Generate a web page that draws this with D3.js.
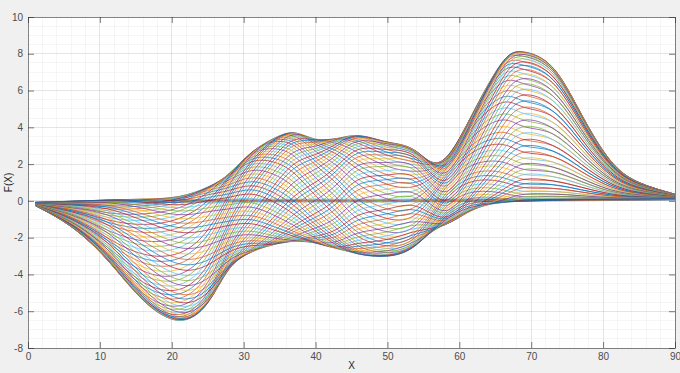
<!DOCTYPE html>
<html>
<head>
<meta charset="utf-8">
<script src="https://cdn.jsdelivr.net/npm/d3@7"></script>
<style>
  html, body { margin: 0; padding: 0; background: #f0f0f0; }
  svg { display: block; font-family: "Liberation Sans", Arial, sans-serif; }
</style>
</head>
<body>
<svg id="chart" width="680" height="373"></svg>
<script>
const xKnots = [1, 6, 11, 16, 21, 25, 28, 31, 34, 37, 40, 43, 46, 50, 54, 58, 62, 66, 69, 73, 77, 81, 85, 90];

// F(X) read at each x position above, one value per curve (first set of 36 curves)
const curvesAtX = [
  [-0.08,-0.08,-0.09,-0.09,-0.10,-0.11,-0.12,-0.14,-0.15,-0.17,-0.18,-0.19,-0.21,-0.22,-0.23,-0.24,-0.24,-0.25,-0.25,-0.25,-0.24,-0.24,-0.23,-0.22,-0.21,-0.19,-0.18,-0.17,-0.15,-0.14,-0.12,-0.11,-0.10,-0.09,-0.09,-0.08],
  [-0.02,-0.03,-0.06,-0.11,-0.18,-0.27,-0.37,-0.47,-0.59,-0.71,-0.83,-0.95,-1.06,-1.15,-1.24,-1.31,-1.36,-1.39,-1.40,-1.39,-1.36,-1.31,-1.24,-1.15,-1.06,-0.95,-0.83,-0.71,-0.59,-0.47,-0.37,-0.27,-0.18,-0.11,-0.06,-0.03],
  [0.05,0.03,-0.05,-0.17,-0.33,-0.53,-0.76,-1.02,-1.29,-1.58,-1.86,-2.13,-2.39,-2.62,-2.82,-2.98,-3.10,-3.18,-3.20,-3.18,-3.10,-2.98,-2.82,-2.62,-2.39,-2.13,-1.86,-1.58,-1.29,-1.02,-0.76,-0.53,-0.33,-0.17,-0.05,0.03],
  [0.06,0.10,0.06,-0.07,-0.27,-0.54,-0.88,-1.28,-1.71,-2.17,-2.65,-3.13,-3.59,-4.03,-4.42,-4.76,-5.03,-5.24,-5.36,-5.40,-5.36,-5.24,-5.03,-4.76,-4.42,-4.03,-3.59,-3.13,-2.65,-2.17,-1.71,-1.28,-0.88,-0.54,-0.27,-0.07],
  [0.04,0.19,0.24,0.19,0.04,-0.21,-0.55,-0.96,-1.45,-1.98,-2.54,-3.13,-3.72,-4.28,-4.82,-5.30,-5.71,-6.05,-6.30,-6.45,-6.50,-6.45,-6.30,-6.05,-5.71,-5.30,-4.82,-4.28,-3.72,-3.13,-2.54,-1.98,-1.45,-0.96,-0.55,-0.21],
  [0.33,0.56,0.70,0.75,0.70,0.56,0.33,0.01,-0.38,-0.83,-1.32,-1.85,-2.40,-2.95,-3.48,-3.98,-4.43,-4.81,-5.13,-5.36,-5.50,-5.55,-5.50,-5.36,-5.13,-4.81,-4.43,-3.98,-3.48,-2.95,-2.40,-1.85,-1.32,-0.83,-0.38,0.01],
  [0.57,0.89,1.15,1.34,1.46,1.50,1.46,1.34,1.15,0.89,0.57,0.20,-0.21,-0.65,-1.10,-1.55,-1.99,-2.40,-2.77,-3.09,-3.35,-3.54,-3.66,-3.70,-3.66,-3.54,-3.35,-3.09,-2.77,-2.40,-1.99,-1.55,-1.10,-0.65,-0.21,0.20],
  [0.82,1.25,1.64,1.97,2.24,2.44,2.56,2.60,2.56,2.44,2.24,1.97,1.64,1.25,0.82,0.37,-0.10,-0.57,-1.02,-1.45,-1.84,-2.17,-2.44,-2.64,-2.76,-2.80,-2.76,-2.64,-2.44,-2.17,-1.84,-1.45,-1.02,-0.57,-0.10,0.37],
  [0.48,0.98,1.47,1.92,2.33,2.69,2.97,3.19,3.32,3.36,3.32,3.19,2.97,2.69,2.33,1.92,1.47,0.98,0.48,-0.02,-0.51,-0.96,-1.37,-1.73,-2.01,-2.23,-2.36,-2.40,-2.36,-2.23,-2.01,-1.73,-1.37,-0.96,-0.51,-0.02],
  [-0.26,0.24,0.75,1.26,1.76,2.23,2.65,3.01,3.31,3.52,3.66,3.70,3.66,3.52,3.31,3.01,2.65,2.23,1.76,1.26,0.75,0.24,-0.26,-0.73,-1.15,-1.51,-1.81,-2.02,-2.16,-2.20,-2.16,-2.02,-1.81,-1.51,-1.15,-0.73],
  [-1.29,-0.89,-0.44,0.04,0.53,1.02,1.50,1.95,2.35,2.70,2.98,3.19,3.32,3.36,3.32,3.19,2.98,2.70,2.35,1.95,1.50,1.02,0.53,0.04,-0.44,-0.89,-1.29,-1.64,-1.92,-2.13,-2.26,-2.30,-2.26,-2.13,-1.92,-1.64],
  [-2.20,-1.90,-1.53,-1.10,-0.63,-0.12,0.40,0.92,1.43,1.90,2.33,2.70,3.00,3.22,3.36,3.40,3.36,3.22,3.00,2.70,2.33,1.90,1.43,0.92,0.40,-0.12,-0.63,-1.10,-1.53,-1.90,-2.20,-2.42,-2.56,-2.60,-2.56,-2.42],
  [-2.84,-2.70,-2.46,-2.14,-1.74,-1.28,-0.77,-0.23,0.33,0.89,1.43,1.94,2.40,2.80,3.12,3.36,3.50,3.55,3.50,3.36,3.12,2.80,2.40,1.94,1.43,0.89,0.33,-0.23,-0.77,-1.28,-1.74,-2.14,-2.46,-2.70,-2.84,-2.89],
  [-3.00,-2.95,-2.81,-2.59,-2.28,-1.89,-1.45,-0.96,-0.44,0.10,0.64,1.16,1.65,2.09,2.48,2.79,3.01,3.15,3.20,3.15,3.01,2.79,2.48,2.09,1.65,1.16,0.64,0.10,-0.44,-0.96,-1.45,-1.89,-2.28,-2.59,-2.81,-2.95],
  [-2.40,-2.36,-2.25,-2.06,-1.80,-1.49,-1.13,-0.72,-0.29,0.15,0.59,1.02,1.43,1.79,2.10,2.36,2.55,2.66,2.70,2.66,2.55,2.36,2.10,1.79,1.43,1.02,0.59,0.15,-0.29,-0.72,-1.13,-1.49,-1.80,-2.06,-2.25,-2.36],
  [-0.88,-0.66,-0.40,-0.12,0.19,0.50,0.81,1.12,1.40,1.66,1.88,2.06,2.19,2.27,2.30,2.27,2.19,2.06,1.88,1.66,1.40,1.12,0.81,0.50,0.19,-0.12,-0.40,-0.66,-0.88,-1.06,-1.19,-1.27,-1.30,-1.27,-1.19,-1.06],
  [-0.11,0.16,0.48,0.87,1.29,1.74,2.20,2.67,3.11,3.54,3.92,4.25,4.51,4.71,4.83,4.87,4.83,4.71,4.51,4.25,3.92,3.54,3.11,2.67,2.20,1.74,1.29,0.87,0.48,0.16,-0.11,-0.31,-0.43,-0.47,-0.43,-0.31],
  [-0.03,0.14,0.42,0.80,1.27,1.82,2.42,3.07,3.73,4.40,5.04,5.64,6.19,6.66,7.04,7.32,7.49,7.55,7.49,7.32,7.04,6.66,6.19,5.64,5.04,4.40,3.73,3.07,2.42,1.82,1.27,0.80,0.42,0.14,-0.03,-0.09],
  [-0.02,0.04,0.22,0.52,0.93,1.43,2.01,2.65,3.33,4.04,4.75,5.43,6.07,6.65,7.15,7.56,7.86,8.04,8.10,8.04,7.86,7.56,7.15,6.65,6.07,5.43,4.75,4.04,3.33,2.65,2.01,1.43,0.93,0.52,0.22,0.04],
  [0.03,0.08,0.25,0.51,0.88,1.32,1.84,2.41,3.01,3.64,4.27,4.88,5.45,5.96,6.41,6.77,7.03,7.20,7.25,7.20,7.03,6.77,6.41,5.96,5.45,4.88,4.27,3.64,3.01,2.41,1.84,1.32,0.88,0.51,0.25,0.08],
  [0.06,0.09,0.20,0.37,0.60,0.89,1.22,1.59,1.98,2.38,2.78,3.17,3.54,3.87,4.16,4.39,4.56,4.67,4.70,4.67,4.56,4.39,4.16,3.87,3.54,3.17,2.78,2.38,1.98,1.59,1.22,0.89,0.60,0.37,0.20,0.09],
  [0.08,0.10,0.14,0.22,0.33,0.46,0.61,0.78,0.96,1.14,1.32,1.50,1.67,1.82,1.95,2.06,2.14,2.18,2.20,2.18,2.14,2.06,1.95,1.82,1.67,1.50,1.32,1.14,0.96,0.78,0.61,0.46,0.33,0.22,0.14,0.10],
  [0.10,0.11,0.13,0.16,0.21,0.26,0.33,0.40,0.47,0.55,0.63,0.70,0.78,0.84,0.90,0.94,0.97,0.99,1.00,0.99,0.97,0.94,0.90,0.84,0.78,0.70,0.63,0.55,0.47,0.40,0.33,0.26,0.21,0.16,0.13,0.11],
  [0.12,0.12,0.13,0.14,0.15,0.16,0.18,0.20,0.22,0.24,0.26,0.28,0.30,0.32,0.33,0.34,0.35,0.36,0.36,0.36,0.35,0.34,0.33,0.32,0.30,0.28,0.26,0.24,0.22,0.20,0.18,0.16,0.15,0.14,0.13,0.12]
];

// second set of 36 curves, lying between those of the first set
const curvesAtXMid = [
  [-0.08,-0.08,-0.09,-0.10,-0.11,-0.12,-0.13,-0.14,-0.16,-0.17,-0.19,-0.20,-0.21,-0.23,-0.24,-0.24,-0.25,-0.25,-0.25,-0.25,-0.24,-0.24,-0.23,-0.21,-0.20,-0.19,-0.17,-0.16,-0.14,-0.13,-0.12,-0.11,-0.10,-0.09,-0.08,-0.08],
  [-0.02,-0.04,-0.09,-0.15,-0.22,-0.31,-0.42,-0.53,-0.65,-0.77,-0.89,-1.00,-1.11,-1.20,-1.28,-1.34,-1.38,-1.40,-1.40,-1.38,-1.34,-1.28,-1.20,-1.11,-1.00,-0.89,-0.77,-0.65,-0.53,-0.42,-0.31,-0.22,-0.15,-0.09,-0.04,-0.02],
  [0.04,-0.01,-0.10,-0.24,-0.43,-0.64,-0.89,-1.15,-1.43,-1.72,-2.00,-2.26,-2.51,-2.72,-2.91,-3.05,-3.15,-3.19,-3.19,-3.15,-3.05,-2.91,-2.72,-2.51,-2.26,-2.00,-1.72,-1.43,-1.15,-0.89,-0.64,-0.43,-0.24,-0.10,-0.01,0.04],
  [0.09,0.09,0.01,-0.16,-0.40,-0.71,-1.07,-1.49,-1.94,-2.41,-2.89,-3.36,-3.81,-4.23,-4.59,-4.90,-5.14,-5.31,-5.39,-5.39,-5.31,-5.14,-4.90,-4.59,-4.23,-3.81,-3.36,-2.89,-2.41,-1.94,-1.49,-1.07,-0.71,-0.40,-0.16,0.01],
  [0.13,0.23,0.23,0.13,-0.08,-0.37,-0.75,-1.20,-1.70,-2.26,-2.84,-3.42,-4.00,-4.56,-5.06,-5.51,-5.89,-6.18,-6.39,-6.49,-6.49,-6.39,-6.18,-5.89,-5.51,-5.06,-4.56,-4.00,-3.42,-2.84,-2.26,-1.70,-1.20,-0.75,-0.37,-0.08],
  [0.45,0.64,0.74,0.74,0.64,0.45,0.18,-0.17,-0.59,-1.07,-1.58,-2.13,-2.67,-3.22,-3.73,-4.21,-4.63,-4.98,-5.25,-5.44,-5.54,-5.54,-5.44,-5.25,-4.98,-4.63,-4.21,-3.73,-3.22,-2.67,-2.13,-1.58,-1.07,-0.59,-0.17,0.18],
  [0.74,1.03,1.26,1.41,1.49,1.49,1.41,1.26,1.03,0.74,0.39,0.00,-0.43,-0.87,-1.33,-1.77,-2.20,-2.59,-2.94,-3.23,-3.46,-3.61,-3.69,-3.69,-3.61,-3.46,-3.23,-2.94,-2.59,-2.20,-1.77,-1.33,-0.87,-0.43,0.00,0.39],
  [1.04,1.45,1.81,2.11,2.35,2.51,2.59,2.59,2.51,2.35,2.11,1.81,1.45,1.04,0.60,0.14,-0.34,-0.80,-1.24,-1.65,-2.01,-2.31,-2.55,-2.71,-2.79,-2.79,-2.71,-2.55,-2.31,-2.01,-1.65,-1.24,-0.80,-0.34,0.14,0.60],
  [0.73,1.23,1.70,2.13,2.52,2.84,3.09,3.26,3.35,3.35,3.26,3.09,2.84,2.52,2.13,1.70,1.23,0.73,0.23,-0.27,-0.74,-1.17,-1.56,-1.88,-2.13,-2.30,-2.39,-2.39,-2.30,-2.13,-1.88,-1.56,-1.17,-0.74,-0.27,0.23],
  [-0.01,0.49,1.01,1.51,2.00,2.44,2.84,3.17,3.42,3.60,3.69,3.69,3.60,3.42,3.17,2.84,2.44,2.00,1.51,1.01,0.49,-0.01,-0.50,-0.94,-1.34,-1.67,-1.92,-2.10,-2.19,-2.19,-2.10,-1.92,-1.67,-1.34,-0.94,-0.50],
  [-1.09,-0.67,-0.20,0.28,0.78,1.26,1.73,2.15,2.53,2.85,3.09,3.26,3.35,3.35,3.26,3.09,2.85,2.53,2.15,1.73,1.26,0.78,0.28,-0.20,-0.67,-1.09,-1.47,-1.79,-2.03,-2.20,-2.29,-2.29,-2.20,-2.03,-1.79,-1.47],
  [-2.06,-1.72,-1.32,-0.87,-0.38,0.14,0.66,1.18,1.67,2.12,2.52,2.86,3.12,3.30,3.39,3.39,3.30,3.12,2.86,2.52,2.12,1.67,1.18,0.66,0.14,-0.38,-0.87,-1.32,-1.72,-2.06,-2.32,-2.50,-2.59,-2.59,-2.50,-2.32],
  [-2.78,-2.59,-2.31,-1.95,-1.52,-1.03,-0.50,0.05,0.61,1.16,1.69,2.18,2.61,2.97,3.25,3.44,3.54,3.54,3.44,3.25,2.97,2.61,2.18,1.69,1.16,0.61,0.05,-0.50,-1.03,-1.52,-1.95,-2.31,-2.59,-2.78,-2.88,-2.88],
  [-2.99,-2.90,-2.71,-2.44,-2.09,-1.68,-1.21,-0.70,-0.17,0.37,0.90,1.41,1.88,2.29,2.64,2.91,3.10,3.19,3.19,3.10,2.91,2.64,2.29,1.88,1.41,0.90,0.37,-0.17,-0.70,-1.21,-1.68,-2.09,-2.44,-2.71,-2.90,-2.99],
  [-2.39,-2.31,-2.16,-1.94,-1.65,-1.31,-0.93,-0.51,-0.07,0.37,0.81,1.23,1.61,1.95,2.24,2.46,2.61,2.69,2.69,2.61,2.46,2.24,1.95,1.61,1.23,0.81,0.37,-0.07,-0.51,-0.93,-1.31,-1.65,-1.94,-2.16,-2.31,-2.39],
  [-0.77,-0.53,-0.26,0.03,0.34,0.66,0.97,1.26,1.53,1.77,1.97,2.13,2.24,2.29,2.29,2.24,2.13,1.97,1.77,1.53,1.26,0.97,0.66,0.34,0.03,-0.26,-0.53,-0.77,-0.97,-1.13,-1.24,-1.29,-1.29,-1.24,-1.13,-0.97],
  [0.01,0.31,0.67,1.07,1.51,1.97,2.43,2.89,3.33,3.73,4.09,4.39,4.62,4.78,4.86,4.86,4.78,4.62,4.39,4.09,3.73,3.33,2.89,2.43,1.97,1.51,1.07,0.67,0.31,0.01,-0.22,-0.38,-0.46,-0.46,-0.38,-0.22],
  [0.04,0.27,0.60,1.03,1.54,2.11,2.74,3.40,4.06,4.72,5.35,5.92,6.43,6.86,7.19,7.42,7.54,7.54,7.42,7.19,6.86,6.43,5.92,5.35,4.72,4.06,3.40,2.74,2.11,1.54,1.03,0.60,0.27,0.04,-0.08,-0.08],
  [0.00,0.12,0.36,0.72,1.17,1.71,2.32,2.99,3.69,4.39,5.09,5.76,6.37,6.91,7.37,7.72,7.96,8.08,8.08,7.96,7.72,7.37,6.91,6.37,5.76,5.09,4.39,3.69,2.99,2.32,1.71,1.17,0.72,0.36,0.12,0.00],
  [0.04,0.15,0.37,0.68,1.09,1.57,2.11,2.71,3.33,3.95,4.58,5.17,5.71,6.19,6.60,6.91,7.13,7.24,7.24,7.13,6.91,6.60,6.19,5.71,5.17,4.58,3.95,3.33,2.71,2.11,1.57,1.09,0.68,0.37,0.15,0.04],
  [0.07,0.14,0.28,0.48,0.74,1.05,1.40,1.78,2.18,2.58,2.98,3.36,3.71,4.02,4.28,4.48,4.62,4.69,4.69,4.62,4.48,4.28,4.02,3.71,3.36,2.98,2.58,2.18,1.78,1.40,1.05,0.74,0.48,0.28,0.14,0.07],
  [0.08,0.12,0.18,0.27,0.39,0.53,0.69,0.87,1.05,1.23,1.42,1.59,1.75,1.89,2.01,2.10,2.16,2.20,2.20,2.16,2.10,2.01,1.89,1.75,1.59,1.42,1.23,1.05,0.87,0.69,0.53,0.39,0.27,0.18,0.12,0.08],
  [0.10,0.12,0.14,0.18,0.23,0.29,0.36,0.43,0.51,0.59,0.67,0.74,0.81,0.87,0.92,0.96,0.99,1.00,1.00,0.99,0.96,0.92,0.87,0.81,0.74,0.67,0.59,0.51,0.43,0.36,0.29,0.23,0.18,0.14,0.12,0.10],
  [0.12,0.12,0.13,0.14,0.16,0.17,0.19,0.21,0.23,0.25,0.27,0.29,0.31,0.33,0.34,0.35,0.36,0.36,0.36,0.36,0.35,0.34,0.33,0.31,0.29,0.27,0.25,0.23,0.21,0.19,0.17,0.16,0.14,0.13,0.12,0.12]
];

// the near-flat curves that make the dark band along zero
const flatCurves = [
  [-0.20,-0.14,-0.10,-0.08,-0.07,-0.06,-0.05,-0.05,-0.05,-0.05,-0.05,-0.05,-0.05,-0.05,-0.04,-0.04,-0.03,-0.02,-0.01,0.00,0.01,0.02,0.03,0.05],
  [-0.18,-0.12,-0.08,-0.06,-0.05,-0.04,-0.03,-0.03,-0.03,-0.03,-0.03,-0.03,-0.03,-0.03,-0.02,-0.02,-0.01,0.00,0.01,0.02,0.03,0.04,0.05,0.07],
  [-0.16,-0.09,-0.05,-0.03,-0.02,-0.01,0.00,0.00,0.00,0.00,0.00,0.00,0.00,0.00,0.01,0.01,0.02,0.03,0.04,0.05,0.06,0.07,0.08,0.09],
  [-0.14,-0.07,-0.02,0.00,0.01,0.02,0.03,0.03,0.03,0.03,0.03,0.03,0.03,0.03,0.04,0.04,0.05,0.06,0.07,0.08,0.09,0.10,0.11,0.12],
  [-0.12,-0.05,0.00,0.03,0.04,0.05,0.06,0.06,0.06,0.06,0.06,0.06,0.06,0.06,0.07,0.07,0.08,0.09,0.10,0.11,0.12,0.13,0.14,0.14],
  [-0.10,-0.03,0.02,0.05,0.07,0.08,0.09,0.09,0.09,0.09,0.09,0.09,0.09,0.09,0.10,0.10,0.11,0.12,0.13,0.14,0.15,0.16,0.16,0.16]
];

const xTickValues = [0, 10, 20, 30, 40, 50, 60, 70, 80, 90];
const yTickValues = [-8, -6, -4, -2, 0, 2, 4, 6, 8, 10];

const lineColors = ['#0072BD', '#D95319', '#EDB120', '#7E2F8E', '#77AC30', '#4DBEEE', '#A2142F'];

const margin = {top: 17, right: 5, bottom: 25, left: 28};
const width = 680 - margin.left - margin.right;
const height = 373 - margin.top - margin.bottom;

const svg = d3.select('#chart');
const g = svg.append('g').attr('transform', `translate(${margin.left},${margin.top})`);

const x = d3.scaleLinear().domain([0, 90]).range([0, width]);
const y = d3.scaleLinear().domain([-8, 10]).range([height, 0]);

g.append('rect').attr('width', width).attr('height', height).attr('fill', '#fff');

// minor grid
g.append('g').selectAll('line').data(d3.range(0, 91, 2)).join('line')
  .attr('x1', d => x(d)).attr('x2', d => x(d)).attr('y1', 0).attr('y2', height)
  .attr('stroke', '#262626').attr('stroke-opacity', 0.045).attr('shape-rendering', 'crispEdges');
g.append('g').selectAll('line').data(d3.range(-8, 10.01, 0.5)).join('line')
  .attr('y1', d => y(d)).attr('y2', d => y(d)).attr('x1', 0).attr('x2', width)
  .attr('stroke', '#262626').attr('stroke-opacity', 0.045).attr('shape-rendering', 'crispEdges');

// major grid
g.append('g').selectAll('line').data(xTickValues).join('line')
  .attr('x1', d => x(d)).attr('x2', d => x(d)).attr('y1', 0).attr('y2', height)
  .attr('stroke', '#262626').attr('stroke-opacity', 0.08).attr('shape-rendering', 'crispEdges');
g.append('g').selectAll('line').data(yTickValues).join('line')
  .attr('y1', d => y(d)).attr('y2', d => y(d)).attr('x1', 0).attr('x2', width)
  .attr('stroke', '#262626').attr('stroke-opacity', 0.08).attr('shape-rendering', 'crispEdges');

const column = (table, k) => xKnots.map((xv, i) => [xv, table[i][k]]);
const curves = flatCurves.map(vals => vals.map((v, i) => [xKnots[i], v]));
d3.range(curvesAtX[0].length).forEach(k => {
  curves.push(column(curvesAtX, k));
  curves.push(column(curvesAtXMid, k));
});

const line = d3.line()
  .x(d => x(d[0]))
  .y(d => y(d[1]))
  .curve(d3.curveNatural);

g.append('g').attr('fill', 'none').selectAll('path').data(curves).join('path')
  .attr('d', line)
  .attr('stroke', (d, i) => lineColors[i % lineColors.length])
  .attr('stroke-width', 0.7);

// axes with inward ticks on all four sides
const axisColor = '#262626';
const styleAxis = sel => {
  sel.select('.domain').attr('stroke', axisColor).attr('stroke-opacity', 0.5);
  sel.selectAll('.tick line').attr('stroke', axisColor).attr('stroke-opacity', 0.6);
  sel.selectAll('text').attr('fill', '#4d4d4d').style('font-size', '10px');
};

g.append('g').attr('transform', `translate(0,${height})`)
  .call(d3.axisBottom(x).tickValues(xTickValues).tickSizeInner(-6).tickSizeOuter(0).tickPadding(5).tickFormat(d => String(d)))
  .call(styleAxis);
g.append('g')
  .call(d3.axisTop(x).tickValues(xTickValues).tickSizeInner(-6).tickSizeOuter(0).tickFormat(''))
  .call(styleAxis);
g.append('g')
  .call(d3.axisLeft(y).tickValues(yTickValues).tickSizeInner(-6).tickSizeOuter(0).tickPadding(5).tickFormat(d => String(d)))
  .call(styleAxis);
g.append('g').attr('transform', `translate(${width},0)`)
  .call(d3.axisRight(y).tickValues(yTickValues).tickSizeInner(-6).tickSizeOuter(0).tickFormat(''))
  .call(styleAxis);

svg.append('text').attr('x', margin.left + width / 2).attr('y', 369)
  .attr('text-anchor', 'middle').attr('fill', '#262626').style('font-size', '10px').text('X');
svg.append('text').attr('transform', `translate(12,${margin.top + y(1)}) rotate(-90)`)
  .attr('text-anchor', 'middle').attr('fill', '#262626').style('font-size', '10px').text('F(X)');
</script>
</body>
</html>
